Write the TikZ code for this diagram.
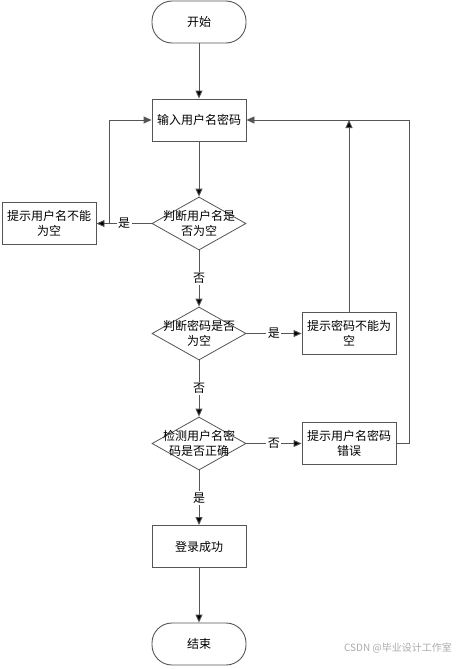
\documentclass[tikz,border=0pt]{standalone}
\usepackage{fontspec}
\setmainfont{Noto Sans CJK SC}
\usetikzlibrary{arrows.meta,shapes.geometric,positioning}
\definecolor{linegray}{HTML}{555555}
\definecolor{markgray}{HTML}{AAAAAA}

\begin{document}
\begin{tikzpicture}[x=1pt,y=-1pt,
  font=\fontsize{12}{15}\selectfont,
  every node/.style={align=center},
  terminal/.style={draw=linegray,line width=0.9pt,rounded corners=20pt,minimum width=94pt,minimum height=42pt,inner sep=0pt},
  process/.style={draw=linegray,line width=0.9pt,minimum width=94pt,minimum height=42pt,inner sep=0pt},
  decision/.style={diamond,draw=linegray,line width=0.8pt,minimum width=94pt,minimum height=53pt,inner sep=0pt,
    label={[align=center,font=\fontsize{12}{15}\selectfont]center:#1}},
  answer/.style={fill=white,inner sep=1.5pt}]
\useasboundingbox (0,0) rectangle (456,669);
\node[terminal] (start) at (199,22) {开始};
\node[process] (input) at (199,120) {输入用户名密码};
\node[decision={判断用户名是\\否为空}] (userchk) at (199,223.5) {};
\node[process] (usermsg) at (49,223.5) {提示用户名不能\\为空};
\node[decision={判断密码是否\\为空}] (pwdchk) at (199,333.5) {};
\node[process] (pwdmsg) at (349,333.5) {提示密码不能为\\空};
\node[decision={检测用户名密\\码是否正确}] (match) at (199,443.5) {};
\node[process] (errmsg) at (349,443.5) {提示用户名密码\\错误};
\node[process] (ok) at (199,546.5) {登录成功};
\node[terminal] (stop) at (199,644) {结束};
\node[text=markgray,font=\fontsize{10}{12}\selectfont] (mark) at (398,648) {CSDN @毕业设计工作室};
\coordinate (j1) at (109,223.5);
\coordinate (up2) at (349,120);
\coordinate (r3) at (409,120);
\path[-{Triangle[length=8pt,width=7pt]},draw=linegray,line width=0.9pt]
(start) edge (input)
(input) edge (userchk)
(userchk) edge node[answer]{是} (usermsg)
(userchk) edge node[answer]{否} (pwdchk)
(pwdchk) edge node[answer]{是} (pwdmsg)
(pwdchk) edge node[answer]{否} (match)
(match) edge node[answer]{否} (errmsg)
(match) edge node[answer]{是} (ok)
(ok) edge (stop)
(pwdmsg) edge (up2);
\draw[-{Triangle[length=8pt,width=7pt]},draw=linegray,line width=0.9pt] (j1) |- (input.west);
\draw[-{Triangle[length=8pt,width=7pt]},draw=linegray,line width=0.9pt] (errmsg.east) -| (r3) -- (input.east);
\end{tikzpicture}
\end{document}
